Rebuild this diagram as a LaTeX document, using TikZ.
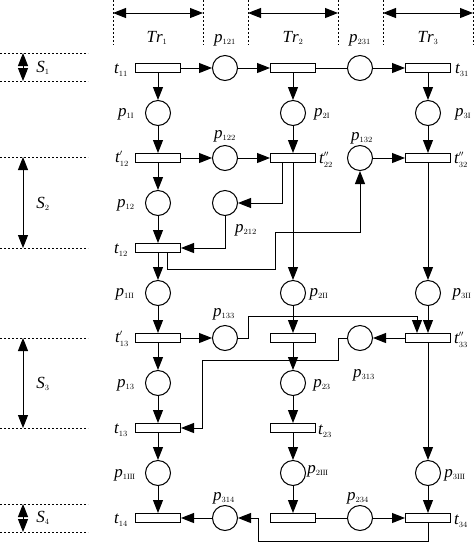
\documentclass[tikz,border=0pt]{standalone}
\usepackage{fontspec}
\setmainfont{Liberation Serif}
\DeclareMathSizes{17}{17}{8}{6}
\usetikzlibrary{arrows.meta}
\newcommand{\vi}[1]{\mathit{#1}}
\begin{document}
\begin{tikzpicture}[x=1pt,y=-1pt,
  trans/.style={draw, rectangle, minimum width=45pt, minimum height=9pt, inner sep=0pt, line width=1pt},
  place/.style={draw, circle, minimum size=25pt, inner sep=0pt, line width=1pt},
  arr/.style={-{Triangle[length=13pt,width=10pt]}, line width=1pt},
  plain/.style={line width=1pt},
  dbl/.style={{Triangle[length=13pt,width=10pt]}-{Triangle[length=13pt,width=10pt]}, line width=1pt},
  guide/.style={line width=0.8pt, dash pattern=on 2pt off 2pt},
  lab/.style={font=\fontsize{17}{19}\selectfont, inner sep=0pt}]
\useasboundingbox (0,0) rectangle (474,542);

% ---- top guides ----
\foreach \x/\n in {113/a,203/b,248/c,338/d,383/e,473/f}{
  \coordinate (g\n0) at (\x,0); \coordinate (g\n1) at (\x,45);
  \draw[guide] (g\n0) -- (g\n1);
  \coordinate (h\n) at (\x,13);
}
\draw[dbl] (ha) -- (hb);
\draw[dbl] (hc) -- (hd);
\draw[dbl] (he) -- (hf);
\node[lab] (Tr1) at (157,38) {$\vi{Tr}_1$};
\node[lab] (Tr2) at (293,38) {$\vi{Tr}_2$};
\node[lab] (Tr3) at (428,38) {$\vi{Tr}_3$};
\node[lab] (lp121) at (225,40) {$\vi{p}_{121}$};
\node[lab] (lp231) at (360,40) {$\vi{p}_{231}$};

% ---- left guides ----
\foreach \y/\n in {53/a,81/b,157/c,248/d,338/e,428/f,504/g,532/h}{
  \coordinate (l\n0) at (0,\y); \coordinate (l\n1) at (88,\y);
  \draw[guide] (l\n0) -- (l\n1);
  \coordinate (s\n) at (23,\y);
}
\draw[dbl] (sa) -- (sb);
\draw[dbl] (sc) -- (sd);
\draw[dbl] (se) -- (sf);
\draw[dbl] (sg) -- (sh);
\node[lab] (S1) at (43,68) {$\vi{S}_1$};
\node[lab] (S2) at (43,204) {$\vi{S}_2$};
\node[lab] (S3) at (43,384) {$\vi{S}_3$};
\node[lab] (S4) at (43,518) {$\vi{S}_4$};

% ---- nodes ----
\node[trans] (t11) at (158,68) {};
\node[place] (p121) at (225,68) {};
\node[trans] (t21) at (293,68) {};
\node[place] (p231) at (360,68) {};
\node[trans] (t31) at (428,68) {};

\node[place] (p11) at (158,113) {};
\node[place] (p21) at (293,113) {};
\node[place] (p31) at (428,113) {};

\node[trans] (t12a) at (158,158) {};
\node[place] (p122) at (225,158) {};
\node[trans] (t22) at (293,158) {};
\node[place] (p132) at (360,158) {};
\node[trans] (t32) at (428,158) {};

\node[place] (p12) at (158,203) {};
\node[place] (p212) at (225,203) {};
\node[trans] (t12) at (158,248) {};

\node[place] (p1II) at (158,293) {};
\node[place] (p2II) at (293,293) {};
\node[place] (p3II) at (428,293) {};

\node[trans] (t13a) at (158,338) {};
\node[place] (p133) at (225,338) {};
\node[trans] (t23a) at (293,338) {};
\node[place] (p313) at (360,338) {};
\node[trans] (t33) at (428,338) {};

\node[place] (p13) at (158,383) {};
\node[place] (p23) at (293,383) {};
\node[trans] (t13) at (158,428) {};
\node[trans] (t23) at (293,428) {};

\node[place] (p1III) at (158,473) {};
\node[place] (p2III) at (293,473) {};
\node[place] (p3III) at (428,473) {};

\node[trans] (t14) at (158,518) {};
\node[place] (p314) at (225,518) {};
\node[trans] (t24) at (293,518) {};
\node[place] (p234) at (360,518) {};
\node[trans] (t34) at (428,518) {};

% ---- labels ----
\node[lab] (lt11) at (121,70) {$\vi{t}_{11}$};
\node[lab] (lt31) at (462,70) {$\vi{t}_{31}$};
\node[lab] (lp11) at (126,114) {$\vi{p}_{1\mathrm{I}}$};
\node[lab] (lp21) at (322,114) {$\vi{p}_{2\mathrm{I}}$};
\node[lab] (lp31) at (463,114) {$\vi{p}_{3\mathrm{I}}$};
\node[lab] (lp122) at (225,136) {$\vi{p}_{122}$};
\node[lab] (lp132) at (362,138) {$\vi{p}_{132}$};
\node[lab] (lt12a) at (122,159) {$\vi{t}'_{12}$};
\node[lab] (lt22) at (326,160) {$\vi{t}''_{22}$};
\node[lab] (lt32) at (461,160) {$\vi{t}''_{32}$};
\node[lab] (lp12) at (126,205) {$\vi{p}_{12}$};
\node[lab] (lp212) at (246,230) {$\vi{p}_{212}$};
\node[lab] (lt12) at (121,250) {$\vi{t}_{12}$};
\node[lab] (lp1II) at (125,294) {$\vi{p}_{1\mathrm{II}}$};
\node[lab] (lp2II) at (319,294) {$\vi{p}_{2\mathrm{II}}$};
\node[lab] (lp3II) at (462,294) {$\vi{p}_{3\mathrm{II}}$};
\node[lab] (lp133) at (224,314) {$\vi{p}_{133}$};
\node[lab] (lt13a) at (122,339) {$\vi{t}'_{13}$};
\node[lab] (lt33) at (461,340) {$\vi{t}''_{33}$};
\node[lab] (lp313) at (364,375) {$\vi{p}_{313}$};
\node[lab] (lp13) at (126,385) {$\vi{p}_{13}$};
\node[lab] (lp23) at (322,385) {$\vi{p}_{23}$};
\node[lab] (lt13) at (121,430) {$\vi{t}_{13}$};
\node[lab] (lt23) at (325,431) {$\vi{t}_{23}$};
\node[lab] (lp1III) at (125,475) {$\vi{p}_{1\mathrm{III}}$};
\node[lab] (lp2III) at (318,471) {$\vi{p}_{2\mathrm{III}}$};
\node[lab] (lp3III) at (455,475) {$\vi{p}_{3\mathrm{III}}$};
\node[lab] (lp314) at (224,498) {$\vi{p}_{314}$};
\node[lab] (lp234) at (358,498) {$\vi{p}_{234}$};
\node[lab] (lt14) at (121,520) {$\vi{t}_{14}$};
\node[lab] (lt34) at (461,521) {$\vi{t}_{34}$};

% ---- row 1 ----
\draw[arr] (t11) -- (p121);
\draw[arr] (p121) -- (t21);
\draw[plain] (t21) -- (p231);
\draw[arr] (p231) -- (t31);
\draw[arr] (t11) -- (p11);
\draw[arr] (t21) -- (p21);
\draw[arr] (t31) -- (p31);
\draw[arr] (p11) -- (t12a);
\draw[arr] (p21) -- (t22);
\draw[arr] (p31) -- (t32);

% ---- row 2 ----
\draw[arr] (t12a) -- (p122);
\draw[arr] (p122) -- (t22);
\draw[arr] (p132) -- (t32);
\draw[arr] (t12a) -- (p12);
\draw[arr] (p12) -- (t12);
\draw[arr] ([xshift=-11pt]t22.south) |- (p212.east);
\draw[arr] (p212.south) |- (t12.east);
\coordinate (c1) at (275,269);
\coordinate (c2) at (360,232);
\draw[arr] ([xshift=9pt]t12.south) |- (c1) |- (c2) -- (p132.south);
\draw[arr] (t22) -- (p2II);
\draw[arr] (t32) -- (p3II);
\draw[arr] (t12) -- (p1II);

% ---- row 3 ----
\draw[arr] (p1II) -- (t13a);
\draw[arr] (p2II) -- (t23a);
\draw[arr] (p3II) -- (t33);
\draw[arr] (t13a) -- (p133);
\coordinate (c3) at (248,338);
\coordinate (c4) at (417,316);
\draw[arr] (p133.east) -- (c3) |- (c4) -- ([xshift=-11pt]t33.north);
\draw[arr] (t33) -- (p313);
\coordinate (c5) at (338,360);
\coordinate (c6) at (202,428);
\draw[arr] (p313.west) -| (c5) -| (c6) -- (t13.east);
\draw[arr] (t13a) -- (p13);
\draw[arr] (t23a) -- (p23);
\draw[arr] (p13) -- (t13);
\draw[arr] (p23) -- (t23);
\draw[arr] (t33) -- (p3III);

% ---- row 4 ----
\draw[arr] (t13) -- (p1III);
\draw[arr] (t23) -- (p2III);
\draw[arr] (p1III) -- (t14);
\draw[arr] (p2III) -- (t24);
\draw[arr] (p3III) -- (t34);
\draw[plain] (t24) -- (p234);
\draw[arr] (p234) -- (t34);
\draw[arr] (p314) -- (t14);
\coordinate (c7) at (258,541);
\draw[arr] (t34.south) |- (c7) |- (p314.east);
\end{tikzpicture}
\end{document}
